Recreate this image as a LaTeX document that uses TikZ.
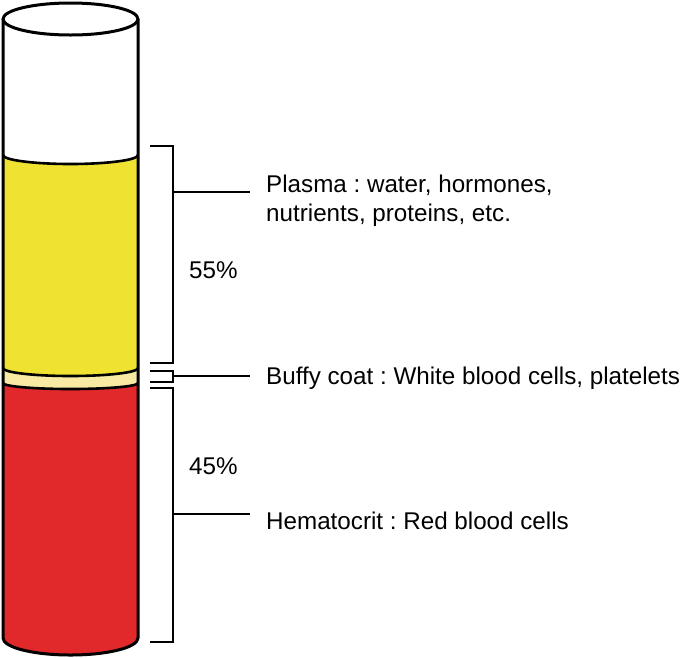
\documentclass[tikz,border=0pt]{standalone}
\usepackage{fontspec}
\setmainfont{Liberation Sans}
\usepackage{tikz}
\usetikzlibrary{positioning,calc}

\definecolor{plasmayellow}{RGB}{240,226,48}
\definecolor{buffycream}{RGB}{248,234,162}
\definecolor{bloodred}{RGB}{225,40,42}

\tikzset{
  tube/.style={line width=3pt, line join=round},
  bracket/.style={line width=2.6pt},
  lbl/.style={inner sep=0pt, font=\fontsize{24.2}{29}\selectfont},
}
\frenchspacing

\begin{document}
\begin{tikzpicture}[x=1pt, y=-1pt]
    \useasboundingbox (0,0) rectangle (685,657);
    % Layers
    \fill[plasmayellow] (3,155) arc[start angle=180, end angle=0, x radius=67.5, y radius=9]
        -- (138,368) arc[start angle=0, end angle=180, x radius=67.5, y radius=8] -- cycle;
    \fill[buffycream] (3,368) arc[start angle=180, end angle=0, x radius=67.5, y radius=8]
        -- (138,383) arc[start angle=0, end angle=180, x radius=67.5, y radius=6] -- cycle;
    \fill[bloodred] (3,383) arc[start angle=180, end angle=0, x radius=67.5, y radius=6]
        -- (138,638) arc[start angle=0, end angle=180, x radius=67.5, y radius=17] -- cycle;
    % Tube
    \draw[tube] (70.5,19) ellipse[x radius=67.5, y radius=16];
    \draw[tube] (3,19) -- (3,638) arc[start angle=180, end angle=0, x radius=67.5, y radius=17] -- (138,19);
    \draw[line width=2.6pt] (3,155) arc[start angle=180, end angle=0, x radius=67.5, y radius=9];
    \draw[line width=2.6pt] (3,368) arc[start angle=180, end angle=0, x radius=67.5, y radius=8];
    \draw[line width=2.6pt] (3,383) arc[start angle=180, end angle=0, x radius=67.5, y radius=6];
    % Brackets
    \draw[bracket] (150,146) -| (173,363) -- (150,363);
    \draw[bracket] (150,371) -| (173,382) -- (150,382);
    \draw[bracket] (150,388) -| (173,642) -- (150,642);
    \coordinate (plasmamid) at (173,192);
    \coordinate (plasmaend) at (250,192);
    \coordinate (buffymid) at (173,376);
    \coordinate (buffyend) at (250,376);
    \coordinate (redmid) at (173,514);
    \coordinate (redend) at (250,514);
    \draw[bracket] (plasmamid) -- (plasmaend);
    \draw[bracket] (buffymid) -- (buffyend);
    \draw[bracket] (redmid) -- (redend);
    % Labels
    \node[lbl, anchor=north west, align=left] (plasma) at (266,175)
        {Plasma : water, hormones,\\nutrients, proteins, etc.};
    \node[lbl, anchor=base west] (plasmapct) at (189,278) {55\%};
    \node[lbl, anchor=base west] (buffy) at (266,384) {Buffy coat : White blood cells, platelets};
    \node[lbl, anchor=base west] (redpct) at (189,474) {45\%};
    \node[lbl, anchor=base west] (hemato) at (266,529) {Hematocrit : Red blood cells};

  \end{tikzpicture}
\end{document}
